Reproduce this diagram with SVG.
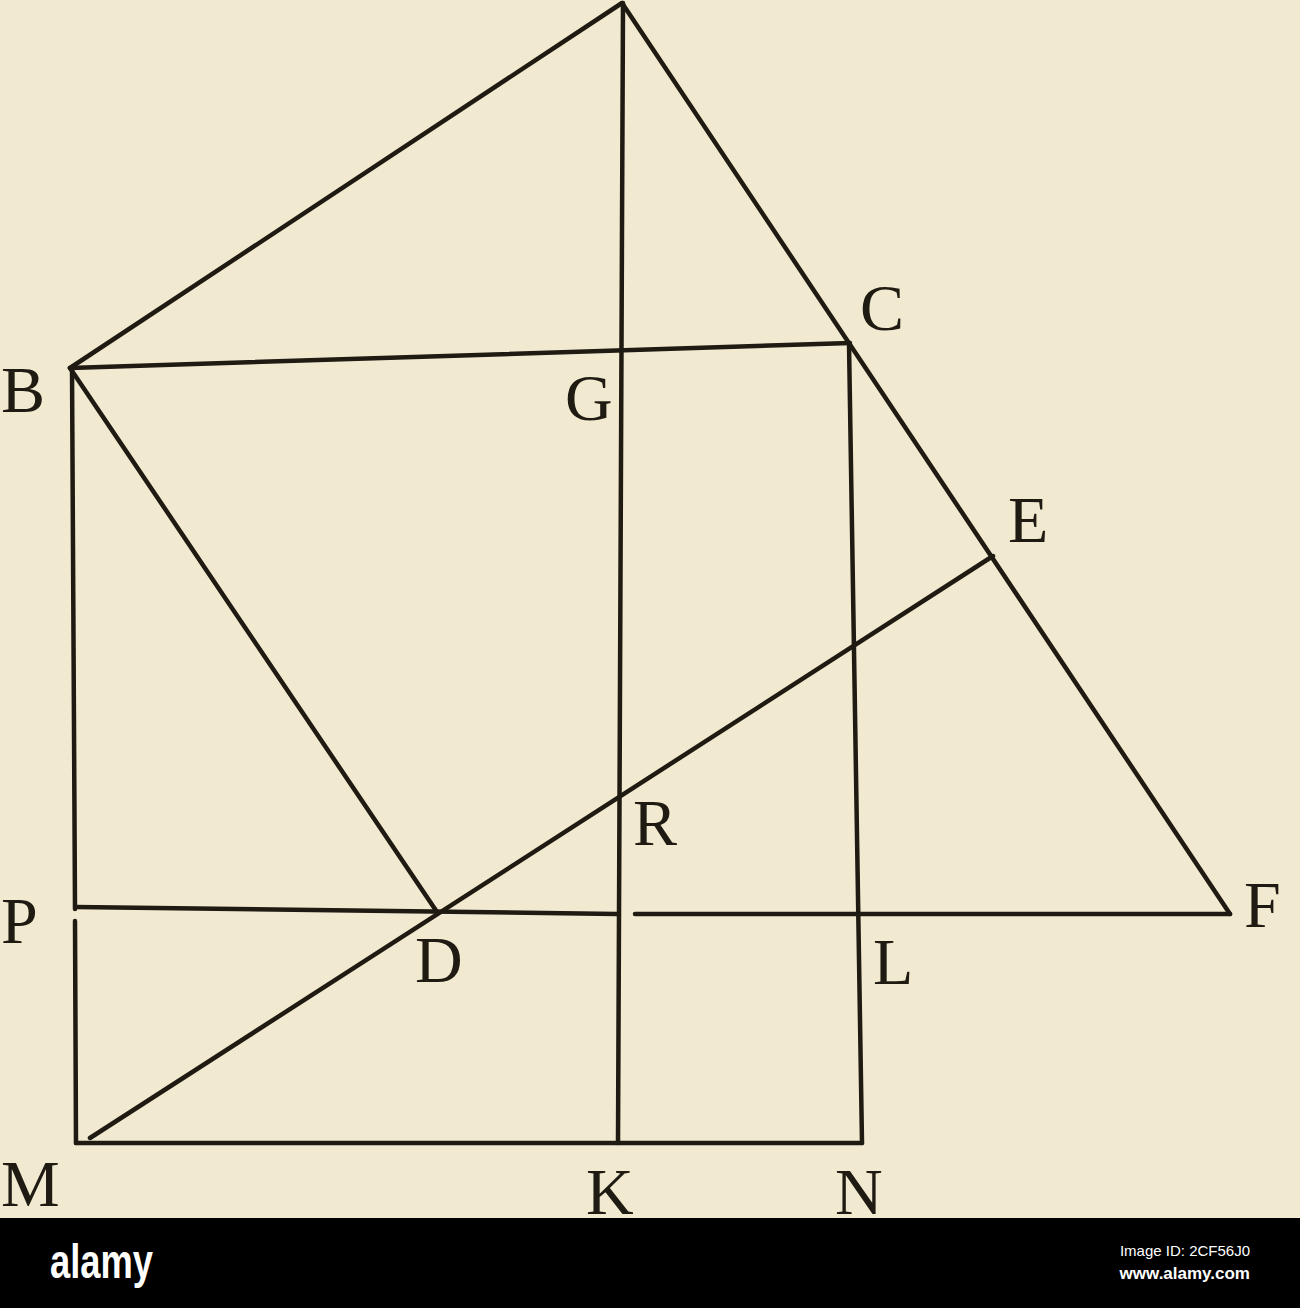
<svg xmlns="http://www.w3.org/2000/svg" width="1300" height="1308" viewBox="0 0 1300 1308">
<style>
.ln{stroke:#1f1a12;stroke-width:4.5;fill:none;stroke-linecap:round}
.lb{font-family:"Liberation Serif","DejaVu Serif",serif;font-size:66px;fill:#1f1a12}
.wm{font-family:"Liberation Sans",Arial,sans-serif;fill:#ffffff}
</style>
<rect x="0" y="0" width="1300" height="1308" fill="#f2ead0"/>
<g id="connectors">
<line class="ln" x1="622" y1="3" x2="70" y2="368"/>
<line class="ln" x1="622" y1="3" x2="1230" y2="914"/>
<line class="ln" x1="70" y1="368" x2="850" y2="343"/>
<line class="ln" x1="70" y1="368" x2="437" y2="912"/>
<line class="ln" x1="72" y1="368" x2="75" y2="909"/>
<line class="ln" x1="75" y1="921" x2="76" y2="1143"/>
<line class="ln" x1="623" y1="3" x2="618" y2="1143"/>
<line class="ln" x1="849" y1="343" x2="862" y2="1143"/>
<line class="ln" x1="76" y1="907" x2="617" y2="914"/>
<line class="ln" x1="635" y1="914" x2="1230" y2="914"/>
<line class="ln" x1="90" y1="1138" x2="993" y2="556"/>
<line class="ln" x1="76" y1="1143" x2="862" y2="1143"/>
</g>
<g id="node-B"><text class="lb" x="1" y="412">B</text></g>
<g id="node-G"><text class="lb" x="565" y="420">G</text></g>
<g id="node-C"><text class="lb" x="860" y="330">C</text></g>
<g id="node-E"><text class="lb" x="1008" y="542">E</text></g>
<g id="node-R"><text class="lb" x="633" y="845">R</text></g>
<g id="node-P"><text class="lb" x="1" y="943">P</text></g>
<g id="node-D"><text class="lb" x="415" y="982">D</text></g>
<g id="node-L"><text class="lb" x="873" y="984">L</text></g>
<g id="node-F"><text class="lb" x="1244" y="927">F</text></g>
<g id="node-M"><text class="lb" x="1" y="1206">M</text></g>
<g id="node-K"><text class="lb" x="586" y="1214">K</text></g>
<g id="node-N"><text class="lb" x="835" y="1214">N</text></g>
<g id="watermark-bar">
<rect x="0" y="1218" width="1300" height="90" fill="#000000"/>
<text class="wm" x="50" y="1278" font-size="48" font-weight="bold" textLength="103" lengthAdjust="spacingAndGlyphs">alamy</text>
<text class="wm" x="1250" y="1256" font-size="15" text-anchor="end">Image ID: 2CF56J0</text>
<text class="wm" x="1250" y="1279" font-size="17" font-weight="bold" text-anchor="end">www.alamy.com</text>
</g>
</svg>
